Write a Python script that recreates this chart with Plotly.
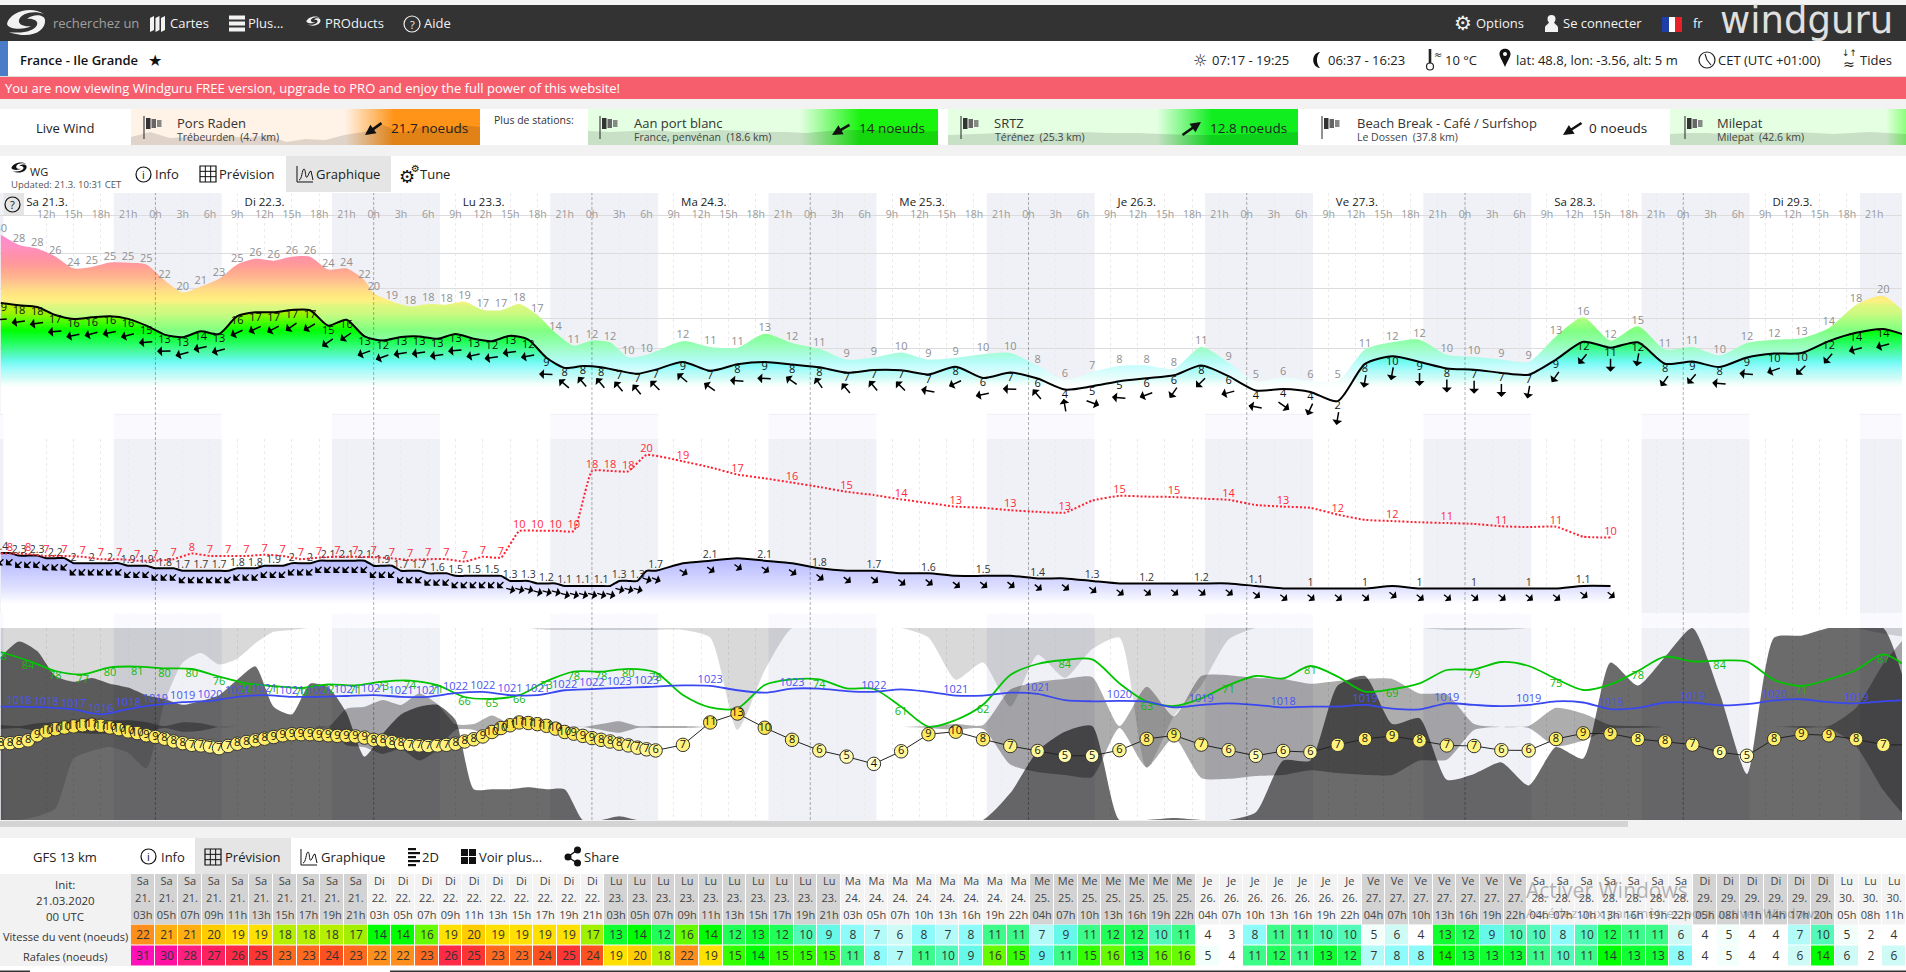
import math
import plotly.graph_objects as go

W, H = 1906, 972
FONT = "Open Sans"
GLYPH = "DejaVu Sans"

# ---------- wind panel (knots) ----------
WIND_HOURS = list(range(7, 80, 2)) + list(range(82, 218, 3))
WIND = [18.63, 18.24, 17.96, 16.6, 15.94, 16.2, 16.4, 15.95, 14.8, 13.3, 12.85, 13.85, 13.4,
        16.4, 17.05, 17.05, 17.45, 17.4, 14.8, 15.8, 13.0, 12.3, 12.9, 13.0, 12.6, 13.4, 12.6,
        12.2, 13.1, 12.46, 9.4, 7.7, 8.0, 7.8, 7.2, 6.7, 7.4,
        8.7, 7.2, 8.3, 8.7, 8.25, 7.8, 6.9, 7.35, 7.3, 6.6, 7.9, 6.0, 6.9, 5.9, 4.05, 4.6, 5.45,
        5.95, 6.45, 8.1, 6.3, 3.9, 4.15, 3.65, 2.1, 8.36, 9.65, 8.7, 7.6, 7.4, 6.85, 6.55, 9.1,
        12.1, 11.1, 12.0, 8.4, 8.75, 7.85, 9.45, 10.1, 10.2, 12.2, 13.6, 14.25, 12.9]
WIND_DIR = [265, 262, 262, 265, 258, 255, 258, 255, 265, 268, 255, 258, 255, 245, 245, 242, 235,
            240, 235, 235, 250, 250, 260, 262, 262, 265, 258, 262, 262, 260, 272, 310, 320, 320,
            320, 320, 315, 310, 305, 275, 272, 305, 325, 320, 320, 315, 280, 245, 258, 272, 320,
            350, 110, 275, 250, 215, 225, 255, 280, 125, 205, 190, 190, 190, 180, 180, 180, 180,
            190, 215, 220, 180, 190, 215, 220, 275, 275, 250, 225, 220, 255, 255, 255]
GUST_HOURS = list(range(7, 48, 2)) + list(range(48, 79, 2)) + list(range(82, 218, 3))
GUST = [30.1, 28.4, 27.8, 26.45, 24.45, 24.7, 25.45, 25.4, 25.1, 22.45, 20.4, 21.4, 22.7, 25.1,
        26.05, 25.75, 26.4, 26.4, 24.25, 24.45, 22.45,
        20.3, 18.9, 18.05, 18.45, 18.35, 18.85, 17.49, 17.4, 18.45, 16.6, 13.6, 11.45, 12.3, 12.0,
        9.5, 9.9,
        12.2, 11.2, 11.1, 13.45, 11.9, 10.9, 9.1, 9.45, 10.3, 9.1, 9.4, 10.0, 10.2, 8.1, 5.7, 7.0,
        8.0, 8.1, 7.55, 11.2, 8.6, 5.45, 6.1, 5.5, 5.45, 10.8, 12.0, 12.45, 9.9, 9.55, 9.1, 8.7,
        13.0, 16.2, 12.3, 14.7, 10.8, 11.2, 9.8, 11.9, 12.45, 12.7, 14.4, 18.3, 19.8, 16.0]
WIND_GRID = [11, 16, 21, 27, 33.3]
DAY_NAMES = ["Sa 21.3.", "Di 22.3.", "Lu 23.3.", "Ma 24.3.", "Me 25.3.", "Je 26.3.", "Ve 27.3.", "Sa 28.3.", "Di 29.3."]
SUNRISE_H, SUNSET_H = 7.28, 19.42

# ---------- wave panel ----------
WAVE_HOURS = list(range(7, 80)) + list(range(82, 185, 3))
WAVE_HEIGHT = [2.4, 2.4, 2.3, 2.3, 2.3, 2.2, 2.2, 2.2, 2.0, 2.0, 2.0, 2.0, 2.0, 2.0, 1.9, 1.9, 1.9, 1.8, 1.8, 1.8,
               1.7, 1.7, 1.7, 1.7, 1.7, 1.7, 1.8, 1.8, 1.8, 1.9, 1.9, 1.9, 2.0, 2.0, 2.0, 2.1, 2.1, 2.1, 2.1, 2.1,
               2.1, 1.9, 1.9, 1.9, 1.7, 1.7, 1.7, 1.6, 1.6, 1.6, 1.5, 1.5, 1.5, 1.5, 1.5, 1.5, 1.3, 1.3, 1.3, 1.2,
               1.2, 1.2, 1.1, 1.1, 1.1, 1.1, 1.1, 1.1, 1.3, 1.3, 1.3, 1.7, 1.7,
               2.0, 2.1, 2.2, 2.1, 2.0, 1.8, 1.7, 1.7, 1.6, 1.6, 1.5, 1.5, 1.5, 1.4, 1.4, 1.3, 1.2, 1.2,
               1.2, 1.2, 1.2, 1.1, 1.0, 1, 1, 1, 1.1, 1, 1, 1, 1, 1, 1, 1.1, 1.1]
WAVE_DIR = [228, 228, 228, 228, 228, 228, 228, 228, 225, 225, 225, 225, 225, 225,
            225, 225, 225, 225, 225, 225, 225, 225, 225, 225, 225, 225, 225, 225,
            225, 225, 225, 225, 225, 225, 225, 225, 225, 225, 225, 225, 225, 225,
            225, 225, 225, 225, 225, 225, 225, 225, 225, 225, 225, 225, 225, 225,
            105, 105, 105, 105, 105, 105, 105, 105, 105, 105, 105, 105, 105, 105, 105, 108, 112,
            120, 125, 125, 125, 125, 128, 128, 128, 128, 128, 128, 128, 128, 128,
            128, 128, 128, 128, 128, 128, 128, 128, 128, 128, 128, 128, 128, 128, 128,
            128, 128, 128, 128, 128, 128]
WAVE_LABEL_HOURS = list(range(7, 80, 2)) + list(range(85, 182, 6))
PERIOD_HOURS = [7] + list(range(8, 79, 2)) + list(range(82, 185, 3))
PERIOD = [7.6, 7.6, 7.55, 7.3, 7.3, 7.2, 6.9, 6.9, 6.7, 6.7, 6.9, 7.6, 7.3, 7.3, 7.3, 7.45, 7.3, 6.9,
          7.1, 7.2, 7.2, 7.15, 7.0, 6.8, 6.9, 6.9, 6.6, 7.2, 7.1, 10.4, 10.45, 10.45, 10.4, 17.9, 17.9,
          17.85, 19.9,
          19.1, 18.35, 17.45, 16.98, 16.45, 15.9, 15.3, 14.9, 14.35, 13.9, 13.45, 13.3, 13.0, 12.8, 12.7,
          14.2, 14.8, 14.7, 14.65, 14.45, 14.3, 13.65, 13.45, 13.3, 12.45, 11.8, 11.65, 11.5, 11.4, 11.3,
          11.0, 10.9, 10.95, 9.7, 9.6]
PERIOD_LABEL_HOURS = list(range(8, 79, 2)) + list(range(82, 185, 6))

# ---------- cloud cover (%), humidity, pressure, temperature ----------
CLOUD_HOURS = WIND_HOURS
CLOUD_LOW = [85, 93, 88, 75, 72, 74, 71, 69, 65, 63, 60, 62, 65, 73, 80, 59, 55, 71, 69, 56, 33, 45, 55,
             59, 60, 52, 16, 16, 16, 17, 16, 16, 0, 0, 2, 0, 0,
             0, 0, 0, 0, 0, 0, 0, 0, 0, 0, 0, 0, 14, 36, 46, 49, 0, 0, 1, 0, 0, 4, 31, 31, 70, 75, 50,
             53, 21, 24, 30, 18, 38, 32, 82, 70, 85, 100, 66, 24, 95, 96, 100, 100, 100, 60]
CLOUD_MID = [2, 1, 4, 5, 6, 7, 7, 7, 5, 1, 5, 4, 0, 0, 0, 0, 0, 0, 0, 19, 21, 28, 23, 35, 24, 3, 3, 12, 3,
             0, 0, 0, 0, 3, 6, 1, 1,
             1, 0, 0, 0, 0, 0, 0, 0, 0, 1, 3, 2, 39, 47, 50, 52, 1, 42, 11, 53, 54, 51, 50, 45, 48, 50,
             50, 35, 34, 3, 0, 1, 20, 14, 2, 1, 0, 0, 0, 0, 0, 1, 1, 20, 66, 100]
CLOUD_HIGH = [100, 100, 98, 94, 68, 64, 62, 65, 73, 39, 18, 13, 19, 16, 8, 2, 1, 0, 0, 0, 0, 0, 0, 0, 0, 0,
              0, 0, 0, 0, 1, 1, 1, 1, 1, 1, 1,
              1, 5, 53, 22, 0, 0, 0, 0, 0, 5, 27, 18, 41, 14, 26, 11, 5, 73, 46, 30, 6, 0, 0, 0, 0, 0, 0,
              0, 1, 1, 1, 0, 0, 0, 0, 0, 0, 0, 0, 0, 0, 0, 0, 0, 3, 5]
HUMID_HOURS = list(range(7, 80, 3)) + list(range(82, 218, 3))
HUMIDITY = [88, 83.7, 78.5, 76.8, 80.3, 80.7, 79.8, 79.5, 75.7, 72.3, 71, 70, 71.8, 71.3, 73.2, 73.7, 71.4,
            65.5, 64.6, 66.4, 73.4, 78.2, 78.2, 79.6, 77.8,
            66.5, 60.3, 59.8, 71.5, 74.3, 74.3, 69.8, 69.5, 60.6, 50.7, 54, 61.6, 76.5, 82, 84, 84.3, 72.3,
            63.2, 61, 64.8, 71.4, 76, 74.8, 81, 75.7, 68.2, 69.4, 72.3, 79, 79.3, 83, 81, 74.6, 69, 71.8,
            78.5, 85.7, 83.3, 83.7, 83.2, 74, 71, 74.3, 79, 86.8, 79]
HUMID_LABEL_HOURS = list(range(7, 80, 3)) + list(range(97, 215, 9))
PRESS_HOURS = [7] + list(range(9, 79, 3)) + list(range(82, 218, 3))
PRESSURE = [1018.2, 1018.2, 1018.0, 1017.49, 1016.3, 1017.6, 1018.6, 1019.3, 1019.6, 1020.6, 1021, 1020.6, 1020.6,
            1020.8, 1021, 1020.6, 1020.6, 1021.5, 1021.8, 1021, 1021, 1022.2, 1022.5, 1022.8, 1023,
            1023.4, 1023.3, 1022.2, 1021.6, 1022.6, 1022.6, 1022, 1021.8, 1022.4, 1021.8, 1020.9, 1020.9,
            1021.6, 1021.3, 1019.8, 1019.5, 1019.6, 1019.4, 1018, 1018.6, 1019, 1018.6, 1018, 1018.2, 1018.2,
            1018.6, 1017.7, 1017.5, 1019, 1018.6, 1018.3, 1018.6, 1019.5, 1019.2, 1017.6, 1017.9, 1019.2, 1019.2,
            1018.5, 1018.8, 1019.7, 1020, 1019.3, 1019, 1019.5, 1019.8]
PRESS_LABEL_HOURS = list(range(9, 79, 3)) + list(range(85, 212, 9))
TEMP_HOURS = list(range(7, 80)) + list(range(82, 218, 3))
TEMPERATURE = [7.7, 7.7, 7.9, 8.2, 9.1, 9.8, 10.2, 10.5, 10.7, 10.9, 11.0, 10.8, 10.5, 10.2, 9.8, 9.5, 9.1,
               8.8, 8.5, 8.0, 7.7, 7.4, 7.3, 7.1, 6.8, 7.2, 7.6, 7.9, 8.2, 8.5, 8.8, 9.1, 9.3, 9.3, 9.3,
               9.2, 9.1, 9.0, 9.0, 8.9, 8.7, 8.3, 8.2, 7.9, 7.6, 7.4, 7.3, 7.2, 7.3, 7.4, 7.6, 8.0, 8.4,
               8.9, 9.7, 10.4, 10.9, 11.4, 11.3, 11.1, 10.8, 10.3, 9.7, 9.4, 9.0, 8.6, 8.3, 8.0, 7.6, 7.3,
               6.9, 6.6, 6.4,
               7.4, 11.4, 13.0, 10.45, 8.3, 6.4, 5.3, 4.0, 6.25, 9.3, 9.75, 8.4, 7.2, 6.3, 5.45, 5.45, 6.45,
               8.45, 9.1, 7.45, 6.45, 5.45, 6.3, 6.1, 7.4, 8.45, 9.0, 8.15, 7.3, 7.2, 6.45, 6.4, 8.45, 9.45,
               9.4, 8.45, 8.0, 7.45, 6.1, 5.45, 8.45, 9.3, 9.1, 8.4, 7.4, 7.4]

# ---------- forecast table ----------
TABLE_DAY = ("Sa " * 10 + "Di " * 10 + "Lu " * 10 + "Ma " * 8 + "Me " * 7 + "Je " * 7 + "Ve " * 7 + "Sa " * 7 + "Di " * 6 + "Lu " * 3).split()
TABLE_DATE = ("21. " * 10 + "22. " * 10 + "23. " * 10 + "24. " * 8 + "25. " * 7 + "26. " * 7 + "27. " * 7 + "28. " * 7 + "29. " * 6 + "30. " * 3).split()
TABLE_TIME = ("03h 05h 07h 09h 11h 13h 15h 17h 19h 21h " * 3 + "03h 05h 07h 10h 13h 16h 19h 22h " + "04h 07h 10h 13h 16h 19h 22h " * 4 + "05h 08h 11h 14h 17h 20h 05h 08h 11h").split()
TABLE_SHADE = [0] * 10 + [1] * 10 + [0] * 10 + [1] * 8 + [0] * 7 + [1] * 7 + [0] * 7 + [1] * 7 + [0] * 6 + [1] * 3
TABLE_WIND = [22, 21, 21, 20, 19, 19, 18, 18, 18, 17, 14, 14, 16, 19, 20, 19, 19, 19, 19, 17, 13, 14, 12, 16, 14,
              12, 13, 12, 10, 9, 8, 7, 6, 8, 7, 8, 11, 11, 7, 9, 11, 12, 12, 10, 11, 4, 3, 8, 11, 11, 10, 10,
              5, 6, 4, 13, 12, 9, 10, 10, 8, 10, 12, 11, 11, 6, 4, 5, 4, 4, 7, 10, 5, 2, 4]
TABLE_GUST = [31, 30, 28, 27, 26, 25, 23, 23, 24, 23, 22, 22, 23, 26, 25, 23, 23, 24, 25, 24, 19, 20, 18, 22, 19,
              15, 14, 15, 15, 15, 11, 8, 7, 11, 10, 9, 16, 15, 9, 11, 15, 16, 13, 16, 16, 5, 4, 11, 12, 11, 13, 12,
              7, 8, 8, 14, 13, 13, 13, 11, 10, 11, 14, 13, 13, 8, 4, 5, 4, 4, 6, 14, 6, 2, 6]
KNOT_COLOURS = [(0, "#ffffff"), (4.4, "#ffffff"), (5, "#f2fffb"), (6, "#cffbf7"), (7, "#b2fbf8"), (8, "#8cfbfa"),
                (9, "#66f9ea"), (10, "#52f9b8"), (11, "#3cfb88"), (12, "#20ff58"), (13, "#10ff30"), (14, "#00ff00"),
                (15, "#33ff00"), (16, "#66fb00"), (17, "#a0f000"), (18, "#b4f000"), (19, "#ffe000"), (20, "#ffcc00"),
                (21, "#ffb010"), (22, "#ff8f1c"), (23, "#ff6a20"), (24, "#ff5020"), (25, "#ff3535"), (26, "#ff2a45"),
                (27, "#ff2060"), (28, "#ff2080"), (30, "#ff10a0"), (31, "#ff10b8"), (33, "#ff10d0")]

# ---------- station cards ----------
STATION_PROFILE_1 = [8, 13, 7, 8, 5, 9, 7, 10, 3, 6, 5, 10, 13, 20, 12, 18, 13, 20, 18]
STATION_PROFILE_2 = [14, 13, 14, 15, 13, 14, 15, 14, 13, 13, 12, 14, 15, 15, 14, 13, 14]
STATION_PROFILE_3 = [10, 11, 12, 11, 12, 13, 12, 12, 11, 10, 10, 11, 12, 13]
STATION_PROFILE_5 = [11, 12, 12, 11, 12, 13, 12, 13, 12, 11, 12, 13, 12, 11]


def blend(hexcol, frac=0.5):
    r, g, b = [int(hexcol[i:i + 2], 16) for i in (1, 3, 5)]
    return f"rgb({r + (255 - r) * frac:.0f},{g + (255 - g) * frac:.0f},{b + (255 - b) * frac:.0f})"


WIND_TOP = 33.0
knot_scale = [[v / WIND_TOP, c] for v, c in KNOT_COLOURS]
gust_scale = [[v / WIND_TOP, blend(c, 0.5)] for v, c in KNOT_COLOURS]


def px(x):
    return x / W


def py(y):
    return 1 - y / H


def dom(top, bottom):
    return [py(bottom), py(top)]


X_LEFT = 6.91
X_RIGHT = 216.05
fig = go.Figure()
shapes, notes = [], []


def shown(hours, values, fmt):
    return [format(v, fmt) if h < X_RIGHT else "" for h, v in zip(hours, values)]


def rect(x0, y0, x1, y1, fill, layer="below", line=None):
    shapes.append(dict(type="rect", xref="paper", yref="paper", x0=px(x0), x1=px(x1), y0=py(y0), y1=py(y1),
                       fillcolor=fill, line=dict(width=0) if line is None else line, layer=layer))


def oval(x0, y0, x1, y1, fill="rgba(0,0,0,0)", stroke="#111", width=1.2, layer="above"):
    shapes.append(dict(type="circle", xref="paper", yref="paper", x0=px(x0), x1=px(x1), y0=py(y0), y1=py(y1),
                       fillcolor=fill, line=dict(color=stroke, width=width), layer=layer))


def path(d, fill="rgba(0,0,0,0)", stroke=None, width=0, layer="above"):
    out, is_x = [], True
    for tok in d.split():
        if tok.isalpha():
            out.append(tok)
            is_x = True
        else:
            out.append(f"{px(float(tok)):.5f}" if is_x else f"{py(float(tok)):.5f}")
            is_x = not is_x
    shapes.append(dict(type="path", xref="paper", yref="paper", path=" ".join(out), fillcolor=fill,
                       line=dict(color=stroke or "rgba(0,0,0,0)", width=width), layer=layer))


def note(x, y, text, size=13, color="#222", anchor="left", family=FONT, weight="normal"):
    notes.append(dict(xref="paper", yref="paper", x=px(x), y=py(y), text=text, showarrow=False, xanchor=anchor,
                      yanchor="middle", font=dict(family=family, size=size, color=color, weight=weight),
                      borderpad=0, borderwidth=0))


def swirl(x, y, s, fill):
    def tr(d):
        out, is_x = [], True
        for tok in d.split():
            if tok.isalpha():
                out.append(tok)
                is_x = True
            else:
                out.append(str((x + float(tok) * s) if is_x else (y + float(tok) * s)))
                is_x = not is_x
        return " ".join(out)
    path(tr("M 1 15 C 3 4 24 -4 38 5 C 28 1 15 4 13 11 C 12 16 19 18 25 17 C 19 21 3 21 1 15 Z"), fill)
    path(tr("M 39 11 C 40 22 25 31 3 23 C 17 25 28 22 31 16 C 33 11 25 9 21 10 C 27 5 38 5 39 11 Z"), fill)


def grid_icon(x, y, s=16, stroke="#111"):
    rect(x, y, x + s, y + s, "rgba(0,0,0,0)", "above", dict(color=stroke, width=1.2))
    for k in (1, 2):
        path(f"M {x + s * k / 3} {y} L {x + s * k / 3} {y + s}", stroke=stroke, width=1)
        path(f"M {x} {y + s * k / 3} L {x + s} {y + s * k / 3}", stroke=stroke, width=1)


def graph_icon(x, y, s=16):
    path(f"M {x} {y} L {x} {y + s} L {x + s} {y + s}", stroke="#111", width=1)
    path(f"M {x + 2} {y + s - 2} C {x + 5} {y + s - 2} {x + 5} {y + 3} {x + 7} {y + 3} C {x + 9} {y + 3} {x + 8} {y + s - 3} {x + 10} {y + s - 5} C {x + 12} {y + s - 7} {x + 12} {y + 5} {x + 14} {y + 5} L {x + s} {y + s - 2}", stroke="#111", width=1)


def info_icon(x, y, d=15, glyph="i"):
    oval(x, y, x + d, y + d)
    note(x + d / 2, y + d / 2, glyph, 11, "#111", "center")


def windsock(x):
    path(f"M {x} 116 L {x} 139", stroke="#222", width=1)
    for k, (top, bot, col) in enumerate([(118, 129, "#333"), (119, 128, "#666"), (120, 127, "#888")]):
        rect(x + 2 + k * 5.5, top, x + 6.5 + k * 5.5, bot, col, "above")


def card_arrow(x0, y0, x1, y1):
    notes.append(dict(xref="paper", yref="paper", x=px(x1), y=py(y1), ax=(x0 - x1), ay=(y0 - y1), axref="pixel", ayref="pixel",
                      text=" ", font=dict(size=1), showarrow=True, arrowhead=2, arrowsize=0.8, arrowwidth=2.6, arrowcolor="#111"))


# ---------- page structure ----------
rect(0, 0, W, 5, "#f4f4f4")
rect(0, 5, W, 41, "#333333")
rect(0, 41, 8, 76, "#4a7cc8")
rect(0, 76, W, 77, "#dddddd")
rect(0, 77, W, 99, "#f65e6e")
rect(0, 99, W, 109, "#f2f2f2")
rect(0, 145, W, 156, "#f2f2f2")
rect(286, 156, 391, 192, "#e5e5e5")
rect(0, 193, 24, 216, "#e5e5e5")
rect(0, 820, W, 838, "#f2f2f2")
rect(0, 821, 1628, 827, "#d4d4d4")
rect(0, 874, 131, 966, "#f2f2f2")
rect(195, 838, 291, 874, "#e5e5e5")
rect(0, 970.5, 30, 972, "#333333")
rect(390, 970.5, W, 972, "#333333")

# day / night bands on the shared time axis
for k in range(-1, 9):
    start, stop = max(X_LEFT, SUNSET_H + 24 * k), min(X_RIGHT, SUNRISE_H + 24 * (k + 1))
    common = dict(type="rect", xref="x", yref="paper", x0=start, x1=stop, line=dict(width=0), layer="below")
    shapes.append(dict(common, y0=py(820), y1=py(193), fillcolor="#fafafe"))
    for top, bot in ((193, 415), (439, 613), (628, 820)):
        shapes.append(dict(common, y0=py(bot), y1=py(top), fillcolor="#f0f1f7"))
for k in range(1, 9):
    shapes.append(dict(type="line", xref="x", yref="paper", x0=24 * k, x1=24 * k, y0=py(820), y1=py(193),
                       line=dict(color="rgba(0,0,0,0.3)", width=1, dash="3px,2px"), layer="above"))

# ---------- wind panel ----------
fig.add_trace(go.Scatter(x=GUST_HOURS, y=GUST, mode="text+lines", line=dict(width=0, shape="spline", smoothing=0.7),
                         fill="tozeroy", fillgradient=dict(type="vertical", colorscale=gust_scale, start=0, stop=WIND_TOP),
                         text=shown(GUST_HOURS, GUST, ".0f"), textposition="top center",
                         textfont=dict(size=11, color="#8f8f8f"), xaxis="x", yaxis="y", hoverinfo="skip"))
fig.add_trace(go.Scatter(x=WIND_HOURS, y=WIND, mode="lines+text", line=dict(color="#000", width=2, shape="spline", smoothing=0.7),
                         fill="tozeroy", fillgradient=dict(type="vertical", colorscale=knot_scale, start=0, stop=WIND_TOP),
                         text=shown(WIND_HOURS, WIND, ".0f"), textposition="bottom center",
                         textfont=dict(size=11, color="#111"), xaxis="x", yaxis="y", hoverinfo="skip"))
fig.add_trace(go.Scatter(x=[9.8 + 24 * i for i in range(len(DAY_NAMES))], y=[35.5] * len(DAY_NAMES), mode="text",
                         text=DAY_NAMES, textposition="middle right", textfont=dict(size=11.5, color="#222"),
                         xaxis="x", yaxis="y", hoverinfo="skip"))


def direction_arrows(hours, values, bearings, yaxis, drop, length, width, size):
    for h, v, b in zip(hours, values, bearings):
        if h > X_RIGHT:
            continue
        dx, dy = math.sin(math.radians(b)), -math.cos(math.radians(b))
        notes.append(dict(xref="x", yref=yaxis, x=h, y=v, xshift=dx * length / 2, yshift=-drop - dy * length / 2,
                          ax=-dx * length, ay=-dy * length, axref="pixel", ayref="pixel", text=" ", font=dict(size=1),
                          showarrow=True, arrowhead=1, arrowsize=size, arrowwidth=width, arrowcolor="#000"))


direction_arrows(WIND_HOURS, WIND, WIND_DIR, "y", 16.5, 15, 1.5, 1.1)

# ---------- wave panel ----------
wave_scale = [[0, "#ffffff"], [0.16, "#ffffff"], [0.4, "#e0e1ff"], [1, "#a9adff"]]
fig.add_trace(go.Scatter(x=WAVE_HOURS, y=WAVE_HEIGHT, mode="lines+text", line=dict(color="#000", width=2, shape="spline", smoothing=0.5),
                         fill="tozeroy", fillgradient=dict(type="vertical", colorscale=wave_scale, start=0, stop=2.5),
                         text=[f"{v:g}" if h in WAVE_LABEL_HOURS else "" for h, v in zip(WAVE_HOURS, WAVE_HEIGHT)],
                         textposition="top center", textfont=dict(size=10.5, color="#333"),
                         xaxis="x", yaxis="y2", hoverinfo="skip"))
direction_arrows(WAVE_HOURS, WAVE_HEIGHT, WAVE_DIR, "y2", 8.5, 11, 1.4, 1.1)
fig.add_trace(go.Scatter(x=PERIOD_HOURS, y=PERIOD, mode="lines+text", line=dict(color="#ff2030", width=2, dash="2px,2px", shape="spline", smoothing=0.4),
                         text=[f"{v:.0f}" if h in PERIOD_LABEL_HOURS else "" for h, v in zip(PERIOD_HOURS, PERIOD)],
                         textposition="top center", textfont=dict(size=11, color="#ff2a3a"),
                         xaxis="x", yaxis="y4", hoverinfo="skip"))

# ---------- cloud panel ----------
fig.add_trace(go.Scatter(x=CLOUD_HOURS, y=CLOUD_LOW, mode="lines", line=dict(width=0, shape="spline", smoothing=0.6),
                         fill="tozeroy", fillcolor="rgba(0,0,0,0.58)", xaxis="x", yaxis="y3", hoverinfo="skip"))
fig.add_trace(go.Scatter(x=CLOUD_HOURS, y=CLOUD_HIGH, mode="lines", line=dict(width=0, shape="spline", smoothing=0.6),
                         fill="tozeroy", fillcolor="rgba(0,0,0,0.15)", xaxis="x", yaxis="y5", hoverinfo="skip"))
fig.add_trace(go.Scatter(x=CLOUD_HOURS, y=[v / 2 for v in CLOUD_MID], mode="lines", line=dict(width=0, shape="spline", smoothing=0.6),
                         fill="tozeroy", fillcolor="rgba(0,0,0,0.32)", xaxis="x", yaxis="y6", hoverinfo="skip"))
fig.add_trace(go.Scatter(x=CLOUD_HOURS, y=[-v / 2 for v in CLOUD_MID], mode="lines", line=dict(width=0, shape="spline", smoothing=0.6),
                         fill="tozeroy", fillcolor="rgba(0,0,0,0.32)", xaxis="x", yaxis="y6", hoverinfo="skip"))
fig.add_trace(go.Scatter(x=HUMID_HOURS, y=HUMIDITY, mode="lines+text", line=dict(color="#00c400", width=1.8, shape="spline", smoothing=0.8),
                         text=[f"{v:.0f}" if h in HUMID_LABEL_HOURS else "" for h, v in zip(HUMID_HOURS, HUMIDITY)],
                         textposition="bottom center", textfont=dict(size=11, color="#10b810"),
                         xaxis="x", yaxis="y7", hoverinfo="skip"))
fig.add_trace(go.Scatter(x=PRESS_HOURS, y=PRESSURE, mode="lines+text", line=dict(color="#3a48f0", width=1.8, shape="spline", smoothing=0.8),
                         text=[f"{v:.0f}" if h in PRESS_LABEL_HOURS else "" for h, v in zip(PRESS_HOURS, PRESSURE)],
                         textposition="top center", textfont=dict(size=11, color="#4a55f0"),
                         xaxis="x", yaxis="y8", hoverinfo="skip"))
fig.add_trace(go.Scatter(x=TEMP_HOURS, y=TEMPERATURE, mode="lines+markers+text", line=dict(color="#222", width=1),
                         marker=dict(size=13.5, color=TEMPERATURE, cmin=4, cmax=13,
                                     colorscale=[[0, "#ffffd8"], [0.22, "#fff9a0"], [0.45, "#fff06e"], [0.67, "#fae650"], [1, "#ffd83a"]],
                                     line=dict(color="#333", width=1)),
                         text=shown(TEMP_HOURS, TEMPERATURE, ".0f"), textposition="middle center",
                         textfont=dict(size=11, color="#111"), xaxis="x", yaxis="y9", hoverinfo="skip"))

# ---------- table ----------
columns = list(range(len(TABLE_WIND)))
fig.add_trace(go.Heatmap(x=columns, y=[0, 1, 2], z=[TABLE_SHADE] * 3, zmin=0, zmax=1, xgap=1, ygap=0, showscale=False,
                         colorscale=[[0, "#d3d3d3"], [1, "#f3f3f3"]], xaxis="x2", yaxis="y10", hoverinfo="skip"))
fig.add_trace(go.Scatter(x=columns * 3, y=[0] * len(columns) + [1] * len(columns) + [2] * len(columns), mode="text",
                         text=TABLE_DAY + TABLE_DATE + TABLE_TIME, textfont=dict(size=11, color="#444"),
                         xaxis="x2", yaxis="y10", hoverinfo="skip"))
fig.add_trace(go.Heatmap(x=columns, y=[0, 1], z=[TABLE_WIND, TABLE_GUST], zmin=0, zmax=WIND_TOP, xgap=1, ygap=1, showscale=False,
                         colorscale=knot_scale, texttemplate="%{z}", textfont=dict(size=12, color="#333"),
                         xaxis="x2", yaxis="y11", hoverinfo="skip"))

# ---------- station cards ----------
def card(x0, x1, base, hot, ramp0, ramp1, profile):
    frac0, frac1 = (ramp0 - x0) / (x1 - x0), (ramp1 - x0) / (x1 - x0)
    fig.add_trace(go.Scatter(x=[x0, x1, x1, x0, x0], y=[109, 109, 145, 145, 109], mode="lines", line=dict(width=0),
                             fill="toself", fillgradient=dict(type="horizontal", colorscale=[[0, base], [frac0, base], [frac1, hot], [1, hot]], start=x0, stop=x1),
                             xaxis="x3", yaxis="y12", hoverinfo="skip"))
    step = (x1 - x0) / (len(profile) - 1)
    xs = [x0 + i * step for i in range(len(profile))]
    fig.add_trace(go.Scatter(x=xs + [x1, x0], y=[145 - v for v in profile] + [145, 145], mode="lines", line=dict(width=0),
                             fill="toself", fillcolor="rgba(0,0,0,0.12)", xaxis="x3", yaxis="y12", hoverinfo="skip"))


card(131, 480, "#fff2e6", "#ff9418", 345, 394, STATION_PROFILE_1)
card(588, 938, "#e4ffe2", "#19f40f", 800, 860, STATION_PROFILE_2)
card(948, 1298, "#e4ffe2", "#10ee20", 1157, 1212, STATION_PROFILE_3)
card(1670, 1906, "#e4ffe2", "#90ff80", 1886, 1905, STATION_PROFILE_5)

# ---------- header texts and icons ----------
swirl(6, 9, 1.0, "#f2f2f2")
note(53, 23.5, "recherchez un", 13, "#a0a0a0")
for x0 in (150, 155.5, 161):
    path(f"M {x0} 18 L {x0 + 4} 16 L {x0 + 4} 30 L {x0} 32 Z", "#f2f2f2")
note(170, 23.5, "Cartes", 13, "#f2f2f2")
for y0 in (15.5, 21.5, 27.5):
    rect(229, y0, 245, y0 + 4, "#f2f2f2", "above")
note(248, 23.5, "Plus...", 13, "#f2f2f2")
swirl(306, 16, 0.37, "#f2f2f2")
note(325, 23.5, "PROducts", 13, "#f2f2f2")
oval(404, 16, 420, 32, stroke="#eee")
note(412, 24, "?", 11, "#eee", "center")
note(424, 23.5, "Aide", 13, "#f2f2f2")
note(1463, 23.5, "⚙", 20, "#f2f2f2", "center", GLYPH)
note(1475.5, 23.5, "Options", 13, "#f2f2f2")
oval(1547.5, 15, 1555.5, 23, "#f2f2f2", "#f2f2f2", 0)
path("M 1545 32 L 1545 28 C 1545 25 1549 24 1549 22 L 1554 22 C 1554 24 1558 25 1558 28 L 1558 32 Z", "#f2f2f2")
note(1563, 23.5, "Se connecter", 13, "#f2f2f2")
rect(1662, 17, 1669, 32, "#1f3fa8", "above")
rect(1669, 17, 1675, 32, "#ffffff", "above")
rect(1675, 17, 1682, 32, "#e8202a", "above")
note(1693, 23.5, "fr", 13, "#f2f2f2")
note(1806, 21, "windguru", 37, "#e0e0e0", "center", GLYPH)

note(19.5, 60, "France - Ile Grande", 13, "#111", weight=600)
note(155, 60, "★", 16, "#111", "center", GLYPH)
note(1200, 60, "☼", 16, "#222", "center", GLYPH)
note(1212, 60, "07:17 - 19:25", 13, "#222")
path("M 1320 52 C 1311 53 1311 67 1320 68 C 1316 64 1316 56 1320 52 Z", "#111")
note(1328, 60, "06:37 - 16:23", 13, "#222")
path("M 1430 49 L 1430 65", stroke="#222", width=2.6)
oval(1426.5, 63, 1433.5, 70, "#fff", "#222", 1.2)
note(1438, 54, "≈", 10, "#222", "center", GLYPH)
note(1445, 60, "10 °C", 13, "#222")
path("M 1505 67 C 1502 60 1499.5 57 1499.5 54 C 1499.5 47 1510.5 47 1510.5 54 C 1510.5 57 1508 60 1505 67 Z", "#111")
oval(1503, 52, 1507, 56, "#fff", "#fff", 0)
note(1516, 60, "lat: 48.8, lon: -3.56, alt: 5 m", 13, "#222")
oval(1699, 52, 1715, 68, stroke="#222")
path("M 1705 54 L 1707 60 L 1711 65", stroke="#222", width=1.1)
note(1718, 60, "CET (UTC +01:00)", 13, "#222")
note(1849, 53, "↓↑", 9, "#222", "center", GLYPH)
note(1849, 64, "≈", 14, "#222", "center", GLYPH)
note(1860, 60, "Tides", 13, "#222")
note(5, 88.5, "You are now viewing Windguru FREE version, upgrade to PRO and enjoy the full power of this website!", 13, "#ffffff")

note(65, 127.5, "Live Wind", 13, "#222", "center")
windsock(144)
note(177, 123, "Pors Raden", 13, "#333")
note(177, 137, "Trébeurden  (4.7 km)", 10.5, "#444")
card_arrow(383, 122, 365, 135)
note(391, 128, "21.7 noeuds", 13.5, "#222")
note(494, 120, "Plus de stations:", 10.5, "#333")
windsock(600)
note(634, 123, "Aan port blanc", 13, "#333")
note(634, 137, "France, penvénan  (18.6 km)", 10.5, "#444")
card_arrow(851, 124, 832, 135)
note(859, 128, "14 noeuds", 13.5, "#222")
windsock(961)
note(994.5, 123, "SRTZ", 13, "#333")
note(994.5, 137, "Térénez  (25.3 km)", 10.5, "#444")
card_arrow(1181, 136, 1201, 122)
note(1210, 128, "12.8 noeuds", 13.5, "#222")
windsock(1322)
note(1357, 123, "Beach Break - Café / Surfshop", 13, "#333")
note(1357, 137, "Le Dossen  (37.8 km)", 10.5, "#444")
card_arrow(1583, 122, 1563, 135)
note(1589, 128, "0 noeuds", 13.5, "#222")
windsock(1685)
note(1717, 123, "Milepat", 13, "#333")
note(1717, 137, "Milepat  (42.6 km)", 10.5, "#444")

swirl(11, 162, 0.4, "#111")
note(30, 171, "WG", 11, "#222")
note(11, 184, "Updated: 21.3. 10:31 CET", 9.5, "#555")
info_icon(136, 167)
note(155, 174.5, "Info", 13, "#222")
grid_icon(200, 166)
note(219, 174.5, "Prévision", 13, "#222")
graph_icon(297, 166)
note(316, 174.5, "Graphique", 13, "#222")
note(407, 176, "⚙", 18, "#111", "center", GLYPH)
note(415, 168, "⚙", 10, "#111", "center", GLYPH)
note(420, 174.5, "Tune", 13, "#222")
info_icon(5, 197, glyph="?")

note(32.7, 856.5, "GFS 13 km", 13, "#222")
info_icon(141, 849)
note(160.5, 856.5, "Info", 13, "#222")
grid_icon(205, 849)
note(225, 856.5, "Prévision", 13, "#222")
graph_icon(301, 849)
note(320.5, 856.5, "Graphique", 13, "#222")
for y0, w0 in ((848, 8), (852, 12), (856, 8), (860, 12), (864, 8)):
    rect(408, y0, 408 + w0, y0 + 2.2, "#111", "above")
note(422, 856.5, "2D", 13, "#222")
for xq, yq in ((461, 849), (469, 849), (461, 857), (469, 857)):
    rect(xq, yq, xq + 7, yq + 7, "#111", "above")
note(479, 856.5, "Voir plus...", 13, "#222")
path("M 577 850 L 568 857 L 577 863", stroke="#111", width=1.4)
oval(564.5, 853.5, 571.5, 860.5, "#111", "#111", 0)
oval(574, 846.5, 581, 853.5, "#111", "#111", 0)
oval(574, 859.5, 581, 866.5, "#111", "#111", 0)
note(583.5, 856.5, "Share", 13, "#222")

note(65, 884, "Init:", 11.5, "#333", "center")
note(65, 900, "21.03.2020", 11.5, "#333", "center")
note(65, 916, "00 UTC", 11.5, "#333", "center")
note(65, 936, "Vitesse du vent (noeuds)", 11, "#333", "center")
note(65, 956, "Rafales (noeuds)", 11, "#333", "center")
note(1526, 890, "Activer Windows", 21, "rgba(110,110,110,0.5)")
note(1526, 913, "Accédez aux paramètres pour activer Windows", 13.5, "rgba(110,110,110,0.5)")

# ---------- axes ----------
hidden = dict(visible=False, fixedrange=True, showgrid=False, zeroline=False)
hour_ticks = list(range(12, 217, 3))
layout_axes = dict(
    xaxis=dict(domain=[0, 1902 / W], range=[X_LEFT, X_RIGHT], side="top", anchor="free", position=py(220),
               tickvals=hour_ticks, ticktext=[f"{h % 24}h" for h in hour_ticks], ticks="", showline=False,
               tickfont=dict(size=10.5, color="#9a9a9a"), showgrid=True, griddash="3px,3px", gridcolor="#ebebeb", gridwidth=1,
               zeroline=False, fixedrange=True),
    yaxis=dict(domain=dom(193, 415), range=[(413.6 - 415) / 5.94, (413.6 - 193) / 5.94], anchor="x", showticklabels=False,
               ticks="", tickvals=WIND_GRID, showgrid=True, gridcolor="#dcdcdc", gridwidth=1, zeroline=False, fixedrange=True),
    yaxis2=dict(hidden, domain=dom(439, 614), range=[(613.8 - 614) / 25.3, (613.8 - 439) / 25.3], anchor="x"),
    yaxis3=dict(hidden, domain=dom(628, 820), range=[0, 100], anchor="x"),
    yaxis4=dict(hidden, overlaying="y2", range=[(614.5 - 614) / 8.02, (614.5 - 439) / 8.02], anchor="x"),
    yaxis5=dict(hidden, overlaying="y3", range=[100, 0], anchor="x"),
    yaxis6=dict(hidden, overlaying="y3", range=[-93 / 1.92, 99 / 1.92], anchor="x"),
    yaxis7=dict(hidden, overlaying="y3", range=[4, 100], anchor="x"),
    yaxis8=dict(hidden, overlaying="y3", range=[1023 - 133 / 4.08, 1023 + 59 / 4.08], anchor="x"),
    yaxis9=dict(hidden, overlaying="y3", range=[13 - 106.5 / 5.6, 13 + 85.5 / 5.6], anchor="x"),
    xaxis2=dict(hidden, domain=[131 / W, 1], range=[-0.5, 74.5], anchor="y10"),
    yaxis10=dict(hidden, domain=dom(874, 924.5), range=[2.5, -0.5], anchor="x2"),
    yaxis11=dict(hidden, domain=dom(924.5, 966), range=[1.5, -0.5], anchor="x2"),
    xaxis3=dict(hidden, domain=[0, 1], range=[0, W], anchor="y12"),
    yaxis12=dict(hidden, domain=[0, 1], range=[H, 0], anchor="x3"),
)

fig.update_layout(width=W, height=H, autosize=False, margin=dict(l=0, r=0, t=0, b=0, pad=0),
                  paper_bgcolor="#ffffff", plot_bgcolor="rgba(0,0,0,0)", showlegend=False,
                  font=dict(family=FONT, size=12, color="#222"), hovermode=False,
                  shapes=shapes, annotations=notes, **layout_axes)

fig.write_html("out.html", config=dict(displayModeBar=False, responsive=False))
